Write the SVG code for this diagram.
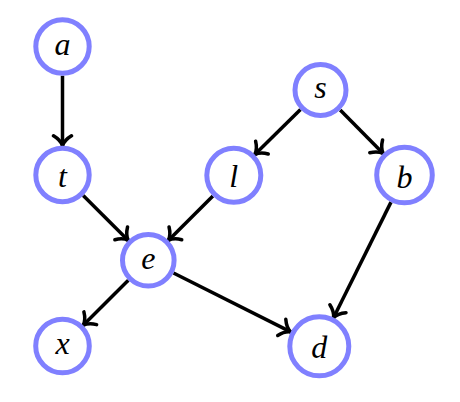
<svg xmlns="http://www.w3.org/2000/svg" width="460" height="402" viewBox="0 0 460 402">
<style>
.node circle{fill:#fff;stroke:#8080ff;stroke-width:5}
.node text{font-family:"Liberation Serif","DejaVu Serif",serif;font-style:italic;font-size:32px;fill:#000;text-anchor:middle}
.edge{stroke:#000;stroke-width:3.5;fill:none;marker-end:url(#arr)}
</style>
<defs>
<marker id="arr" markerUnits="userSpaceOnUse" orient="auto" viewBox="-14 -12 16 24" markerWidth="16" markerHeight="24" refX="0" refY="0">
<path d="M-10,-9 C-7,-4 -3,-1 0,0 C-3,1 -7,4 -10,9" fill="none" stroke="#000" stroke-width="3.5" stroke-linecap="round" stroke-linejoin="round"/>
</marker>
</defs>
<rect width="460" height="402" fill="#fff"/>
<g id="connectors">
<line class="edge" x1="62.5" y1="75.7" x2="62.5" y2="145.8"/>
<line class="edge" x1="83.2" y1="195.6" x2="128.3" y2="240.4"/>
<line class="edge" x1="212.9" y1="196.1" x2="168.3" y2="240.4"/>
<line class="edge" x1="300.5" y1="109.6" x2="254.8" y2="154.6"/>
<line class="edge" x1="340.2" y1="109.9" x2="383.2" y2="153.5"/>
<line class="edge" x1="128.3" y1="280.2" x2="83.2" y2="325.3"/>
<line class="edge" x1="173.5" y1="273" x2="290.7" y2="331.9"/>
<line class="edge" x1="391" y1="202.1" x2="333.5" y2="317.7"/>
</g>
<g id="a" class="node"><circle cx="62.5" cy="46.5" r="26.7"/><text x="62.5" y="55">a</text></g>
<g id="t" class="node"><circle cx="62.5" cy="175" r="26.7"/><text x="62.5" y="186.5">t</text></g>
<g id="x" class="node"><circle cx="62.5" cy="346" r="26.8"/><text x="62.5" y="354.3">x</text></g>
<g id="e" class="node"><circle cx="148.3" cy="260.3" r="25.8"/><text x="148.3" y="268.5">e</text></g>
<g id="s" class="node"><circle cx="320.5" cy="90" r="25.5"/><text x="320.5" y="97.5">s</text></g>
<g id="l" class="node"><circle cx="233.8" cy="175.3" r="27"/><text x="233.8" y="187.3">l</text></g>
<g id="b" class="node"><circle cx="404.5" cy="175" r="27.8"/><text x="404.5" y="187.7">b</text></g>
<g id="d" class="node"><circle cx="319.3" cy="346.3" r="29.5"/><text x="319.3" y="358.3">d</text></g>
</svg>
